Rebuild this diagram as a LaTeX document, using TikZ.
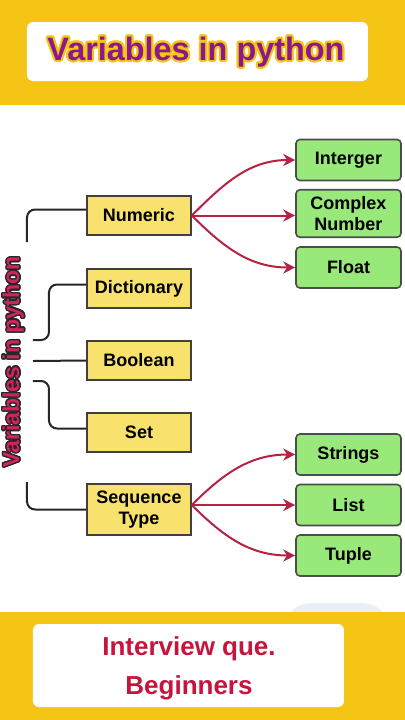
\documentclass[tikz,border=0pt]{standalone}
\usepackage{fontspec}
\setmainfont{Liberation Sans}
\usepackage[copies]{contour}
\usetikzlibrary{arrows.meta}
\definecolor{bandyellow}{HTML}{F5C516}
\definecolor{boxyellow}{HTML}{F8E16C}
\definecolor{boxgreen}{HTML}{98E87A}
\definecolor{arrowred}{HTML}{B82241}
\definecolor{titlepurple}{HTML}{8A1A8C}
\definecolor{labelpink}{HTML}{D1245E}
\definecolor{footred}{HTML}{C8143C}
\definecolor{paleblue}{HTML}{E9EEF8}
\begin{document}
\begin{tikzpicture}[x=0.5pt,y=-0.5pt,
    typebox/.style={draw=black!75, fill=boxyellow, line width=0.8pt, minimum width=52pt,
      minimum height=19.5pt, align=center, font=\bfseries\fontsize{9}{10.5}\selectfont},
    kindbox/.style={draw=black!70, fill=boxgreen, line width=0.8pt, rounded corners=2pt,
      minimum width=52.5pt, minimum height=20.5pt, align=center,
      font=\bfseries\fontsize{9}{10.5}\selectfont},
    tree/.style={line width=1pt, black!85, rounded corners=4pt},
    branch/.style={arrowred, line width=1pt, -{Stealth[length=6pt,width=6pt]}}]
    \useasboundingbox (0,0) rectangle (405,720);
    % Background and bands
    \fill[white] (0,0) rectangle (405,720);
    \fill[paleblue, rounded corners=14pt] (283,603) rectangle (390,650);
    \fill[bandyellow] (0,0) rectangle (405,105);
    \fill[bandyellow] (0,612) rectangle (405,720);
    \fill[white, rounded corners=3pt] (27,22) rectangle (368,81);
    \fill[white, rounded corners=3pt] (33,624) rectangle (344,707);
    % Title and footer
    \node[text=titlepurple, font=\bfseries\fontsize{16.2}{18}\selectfont] (title) at (196,53)
      {\contourlength{1pt}\contour{bandyellow}{Variables in python}};
    \node[text=footred, align=center, font=\bfseries\fontsize{13}{19.5}\selectfont] (footer) at (189,668)
      {Interview que.\\Beginners};
    % Vertical label
    \node[rotate=90, text=labelpink, font=\bfseries\fontsize{11.5}{13}\selectfont] (vlabel) at (14,362)
      {\contourlength{0.7pt}\contour{black!85}{Variables in python}};
    \coordinate (rtop) at (27,242);
    \coordinate (rbot) at (27,482);
    \coordinate (rdict) at (33,340);
    \coordinate (rbool) at (33,361);
    \coordinate (rset) at (33,381);
    % Data types
    \node[typebox] (numeric) at (139,215.5) {Numeric};
    \node[typebox] (dict) at (139,288.5) {Dictionary};
    \node[typebox] (bool) at (139,360.5) {Boolean};
    \node[typebox] (set) at (139,432.5) {Set};
    \node[typebox, minimum height=23.5pt] (seq) at (139,509.5) {Sequence\\Type};
    % Sub types
    \node[kindbox] (int) at (348.5,160) {Interger};
    \node[kindbox] (complex) at (348.5,213.5) {Complex\\Number};
    \node[kindbox] (float) at (348.5,267.5) {Float};
    \node[kindbox] (str) at (348.5,454.5) {Strings};
    \node[kindbox] (list) at (348.5,505) {List};
    \node[kindbox] (tuple) at (348.5,555.5) {Tuple};
    % Tree lines
    \draw[tree] (rtop) |- ([yshift=3pt]numeric.west);
    \draw[tree] (rdict) -- ++(16,0) |- ([yshift=2pt]dict.west);
    \draw[tree] (rbool) -- (bool.west);
    \draw[tree] (rset) -- ++(16,0) |- ([yshift=2pt]set.west);
    \draw[tree] (rbot) |- (seq.west);
    % Arrows
    \draw[branch] (numeric.east) to[out=45,in=180] (int.west);
    \draw[branch] (numeric.east) -- (numeric.east -| complex.west);
    \draw[branch] (numeric.east) to[out=-45,in=180] (float.west);
    \coordinate (seqout) at (seq.east |- list.west);
    \draw[branch] (seqout) to[out=45,in=180] (str.west);
    \draw[branch] (seqout) -- (list.west);
    \draw[branch] (seqout) to[out=-45,in=180] (tuple.west);
\end{tikzpicture}
\end{document}
